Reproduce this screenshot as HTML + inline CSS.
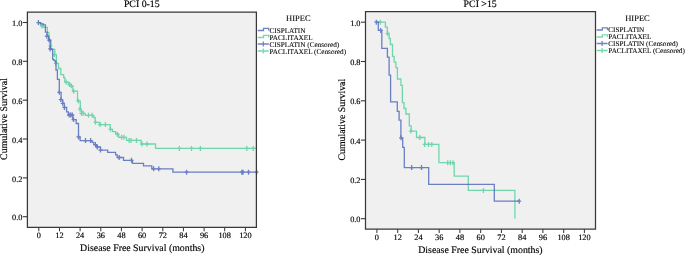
<!DOCTYPE html>
<html><head><meta charset="utf-8"><style>
html,body{margin:0;padding:0;background:#fff;}
svg{display:block;text-rendering:geometricPrecision;}
text{stroke:#000;stroke-width:0.16px;}
.lg{stroke-width:0.08px;}
</style></head><body>
<svg width="685" height="255" viewBox="0 0 685 255" font-family="'Liberation Serif', 'Times New Roman', serif" fill="#000">
<rect width="685" height="255" fill="#fff"/>
<rect x="27.4" y="12.0" width="228.99999999999997" height="215.3" fill="#f0f0f0"/>
<line x1="22.799999999999997" y1="216.7" x2="27.4" y2="216.7" stroke="#383838" stroke-width="1.1"/>
<text x="22.4" y="220.3" text-anchor="end" font-size="8.3">0.0</text>
<line x1="22.799999999999997" y1="177.9" x2="27.4" y2="177.9" stroke="#383838" stroke-width="1.1"/>
<text x="22.4" y="181.5" text-anchor="end" font-size="8.3">0.2</text>
<line x1="22.799999999999997" y1="139.0" x2="27.4" y2="139.0" stroke="#383838" stroke-width="1.1"/>
<text x="22.4" y="142.6" text-anchor="end" font-size="8.3">0.4</text>
<line x1="22.799999999999997" y1="100.2" x2="27.4" y2="100.2" stroke="#383838" stroke-width="1.1"/>
<text x="22.4" y="103.8" text-anchor="end" font-size="8.3">0.6</text>
<line x1="22.799999999999997" y1="61.3" x2="27.4" y2="61.3" stroke="#383838" stroke-width="1.1"/>
<text x="22.4" y="64.9" text-anchor="end" font-size="8.3">0.8</text>
<line x1="22.799999999999997" y1="22.5" x2="27.4" y2="22.5" stroke="#383838" stroke-width="1.1"/>
<text x="22.4" y="26.1" text-anchor="end" font-size="8.3">1.0</text>
<line x1="38.8" y1="227.3" x2="38.8" y2="231.3" stroke="#333" stroke-width="1"/>
<text x="38.8" y="238.2" text-anchor="middle" font-size="8.3">0</text>
<line x1="59.5" y1="227.3" x2="59.5" y2="231.3" stroke="#333" stroke-width="1"/>
<text x="59.5" y="238.2" text-anchor="middle" font-size="8.3">12</text>
<line x1="80.1" y1="227.3" x2="80.1" y2="231.3" stroke="#333" stroke-width="1"/>
<text x="80.1" y="238.2" text-anchor="middle" font-size="8.3">24</text>
<line x1="100.8" y1="227.3" x2="100.8" y2="231.3" stroke="#333" stroke-width="1"/>
<text x="100.8" y="238.2" text-anchor="middle" font-size="8.3">36</text>
<line x1="121.4" y1="227.3" x2="121.4" y2="231.3" stroke="#333" stroke-width="1"/>
<text x="121.4" y="238.2" text-anchor="middle" font-size="8.3">48</text>
<line x1="142.1" y1="227.3" x2="142.1" y2="231.3" stroke="#333" stroke-width="1"/>
<text x="142.1" y="238.2" text-anchor="middle" font-size="8.3">60</text>
<line x1="162.8" y1="227.3" x2="162.8" y2="231.3" stroke="#333" stroke-width="1"/>
<text x="162.8" y="238.2" text-anchor="middle" font-size="8.3">72</text>
<line x1="183.4" y1="227.3" x2="183.4" y2="231.3" stroke="#333" stroke-width="1"/>
<text x="183.4" y="238.2" text-anchor="middle" font-size="8.3">84</text>
<line x1="204.1" y1="227.3" x2="204.1" y2="231.3" stroke="#333" stroke-width="1"/>
<text x="204.1" y="238.2" text-anchor="middle" font-size="8.3">96</text>
<line x1="224.7" y1="227.3" x2="224.7" y2="231.3" stroke="#333" stroke-width="1"/>
<text x="224.7" y="238.2" text-anchor="middle" font-size="8.3">108</text>
<line x1="245.4" y1="227.3" x2="245.4" y2="231.3" stroke="#333" stroke-width="1"/>
<text x="245.4" y="238.2" text-anchor="middle" font-size="8.3">120</text>
<text x="141.8" y="6.9" text-anchor="middle" font-size="9.85">PCI 0-15</text>
<text x="142.3" y="251.3" text-anchor="middle" font-size="9.85">Disease Free Survival (months)</text>
<text transform="translate(6.9 119.0) rotate(-90)" text-anchor="middle" font-size="9.85">Cumulative Survival</text>
<g opacity="0.8" stroke-width="1.3">
<path d="M38.8 22.6 H40.4 V25.5 H43 V27.3 H47.3 V32.4 H48.9 V40.1 H51.1 V49.3 H54.8 V54.6 H56.4 V63.3 H58.5 V68.5 H60.8 V74.7 H63.6 V77.5 H64.8 V82.1 H68.5 V84.6 H70.3 V85.8 H72.9 V91.2 H77.5 V101.1 H80.3 V109.1 H81.2 V111.3 H82.5 V113.3 H85.2 V115.3 H93.6 V117.5 H95.2 V122.3 H99.9 V124.6 H110.1 V129.3 H112.5 V131.7 H115.6 V134.2 H118.7 V137.3 H126.5 V140.4 H141.2 V144 H155.5 V148.4 H256.5" stroke="#52cf9c" fill="none"/>
<path d="M40.0 26.1h4M42.0 23.6v5M48.4 45.8h4M50.4 43.3v5M52.5 54.6h4M54.5 52.1v5M53.8 63.3h4M55.8 60.8v5M64.2 82.1h4M66.2 79.6v5M67.5 84.6h4M69.5 82.1v5M69.3 85.8h4M71.3 83.3v5M71.6 91.2h4M73.6 88.7v5M76.4 101.1h4M78.4 98.6v5M78.0 109.1h4M80.0 106.6v5M79.4 113.3h4M81.4 110.8v5M81.1 113.3h4M83.1 110.8v5M86.5 115.3h4M88.5 112.8v5M90.1 115.3h4M92.1 112.8v5M93.5 122.3h4M95.5 119.8v5M98.0 124.6h4M100.0 122.1v5M103.4 124.6h4M105.4 122.1v5M108.5 129.3h4M110.5 126.8v5M115.3 134.2h4M117.3 131.7v5M119.6 137.3h4M121.6 134.8v5M121.9 137.3h4M123.9 134.8v5M127.1 140.4h4M129.1 137.9v5M129.0 140.4h4M131.0 137.9v5M134.5 140.4h4M136.5 137.9v5M140.0 144.0h4M142.0 141.5v5M145.0 144.0h4M147.0 141.5v5M177.4 148.4h4M179.4 145.9v5M189.5 148.4h4M191.5 145.9v5M198.4 148.4h4M200.4 145.9v5M244.8 148.4h4M246.8 145.9v5M251.3 148.4h4M253.3 145.9v5" stroke="#52cf9c" fill="none"/>
</g>
<g opacity="0.8" stroke-width="1.3">
<path d="M38.8 22.6 H40.8 V23.9 H43.4 V24.9 H45.4 V32.2 H47.2 V36.2 H48.8 V40.1 H50.2 V49.2 H52.7 V59.4 H53.8 V60.3 H55 V61.5 H56 V70 H57.4 V79.3 H59.3 V92.5 H61.1 V99.6 H62.7 V103.3 H64.4 V107.5 H66.6 V111.8 H68.3 V115 H72.8 V119.6 H76.2 V123.5 H78.5 V137 H80.1 V140.6 H92.1 V142.3 H93.8 V144.6 H96.5 V147 H100.5 V150.1 H107.7 V152.3 H115.6 V154.8 H117.2 V157.5 H123.5 V160.3 H132.5 V163.3 H143.5 V165.9 H151.8 V168.8 H172.9 V172.2 H256.5" stroke="#4a63b8" fill="none"/>
<path d="M36.4 22.6h4M38.4 20.1v5M44.8 36.2h4M46.8 33.7v5M47.1 40.1h4M49.1 37.6v5M48.2 48.9h4M50.2 46.4v5M57.3 92.3h4M59.3 89.8v5M58.8 99.6h4M60.8 97.1v5M60.7 103.3h4M62.7 100.8v5M62.4 107.4h4M64.4 104.9v5M67.1 115.0h4M69.1 112.5v5M68.7 115.0h4M70.7 112.5v5M70.3 115.0h4M72.3 112.5v5M71.5 119.6h4M73.5 117.1v5M76.5 136.9h4M78.5 134.4v5M83.5 140.6h4M85.5 138.1v5M88.6 140.6h4M90.6 138.1v5M93.4 144.6h4M95.4 142.1v5M95.3 147.0h4M97.3 144.5v5M98.5 150.1h4M100.5 147.6v5M117.2 157.5h4M119.2 155.0v5M129.5 160.3h4M131.5 157.8v5M151.6 168.8h4M153.6 166.3v5M156.8 168.8h4M158.8 166.3v5M184.6 172.2h4M186.6 169.7v5M239.8 172.2h4M241.8 169.7v5M241.0 172.2h4M243.0 169.7v5M246.5 172.2h4M248.5 169.7v5M254.6 172.2h4M256.6 169.7v5" stroke="#4a63b8" fill="none"/>
</g>
<path d="M27.4 11.4V227.9M256.4 11.4V227.9M26.799999999999997 12.0H257.0M26.799999999999997 227.3H257.0" stroke="#383838" stroke-width="1.25" fill="none"/>
<text class="lg" x="298.4" y="21.2" text-anchor="middle" font-size="8.5">HIPEC</text>
<path d="M257.8 30.50 H263.50 V28.30 H268.70 V30.50" stroke="#4a63b8" stroke-width="1.3" opacity="0.8" fill="none"/>
<text class="lg" x="269.50" y="32.50" font-size="7.2">CISPLATIN</text>
<path d="M257.8 37.50 H263.50 V35.30 H268.70 V37.50" stroke="#52cf9c" stroke-width="1.3" opacity="0.8" fill="none"/>
<text class="lg" x="269.50" y="39.50" font-size="7.2">PACLITAXEL</text>
<path d="M257.8 44.00 H268.80 M263.30 41.50 v5" stroke="#4a63b8" stroke-width="1.3" opacity="0.8" fill="none"/>
<text class="lg" x="269.50" y="46.50" font-size="7.2">CISPLATIN (Censored)</text>
<path d="M257.8 51.00 H268.80 M263.30 48.50 v5" stroke="#52cf9c" stroke-width="1.3" opacity="0.8" fill="none"/>
<text class="lg" x="269.50" y="53.50" font-size="7.2">PACLITAXEL (Censored)</text>
<rect x="365.5" y="11.5" width="230.0" height="217.5" fill="#f0f0f0"/>
<line x1="360.9" y1="218.7" x2="365.5" y2="218.7" stroke="#383838" stroke-width="1.1"/>
<text x="360.5" y="222.3" text-anchor="end" font-size="8.3">0.0</text>
<line x1="360.9" y1="179.4" x2="365.5" y2="179.4" stroke="#383838" stroke-width="1.1"/>
<text x="360.5" y="183.0" text-anchor="end" font-size="8.3">0.2</text>
<line x1="360.9" y1="140.1" x2="365.5" y2="140.1" stroke="#383838" stroke-width="1.1"/>
<text x="360.5" y="143.7" text-anchor="end" font-size="8.3">0.4</text>
<line x1="360.9" y1="100.8" x2="365.5" y2="100.8" stroke="#383838" stroke-width="1.1"/>
<text x="360.5" y="104.4" text-anchor="end" font-size="8.3">0.6</text>
<line x1="360.9" y1="61.5" x2="365.5" y2="61.5" stroke="#383838" stroke-width="1.1"/>
<text x="360.5" y="65.1" text-anchor="end" font-size="8.3">0.8</text>
<line x1="360.9" y1="22.2" x2="365.5" y2="22.2" stroke="#383838" stroke-width="1.1"/>
<text x="360.5" y="25.8" text-anchor="end" font-size="8.3">1.0</text>
<line x1="376.9" y1="229.0" x2="376.9" y2="233.0" stroke="#333" stroke-width="1"/>
<text x="376.9" y="240.3" text-anchor="middle" font-size="8.3">0</text>
<line x1="397.7" y1="229.0" x2="397.7" y2="233.0" stroke="#333" stroke-width="1"/>
<text x="397.7" y="240.3" text-anchor="middle" font-size="8.3">12</text>
<line x1="418.4" y1="229.0" x2="418.4" y2="233.0" stroke="#333" stroke-width="1"/>
<text x="418.4" y="240.3" text-anchor="middle" font-size="8.3">24</text>
<line x1="439.2" y1="229.0" x2="439.2" y2="233.0" stroke="#333" stroke-width="1"/>
<text x="439.2" y="240.3" text-anchor="middle" font-size="8.3">36</text>
<line x1="459.9" y1="229.0" x2="459.9" y2="233.0" stroke="#333" stroke-width="1"/>
<text x="459.9" y="240.3" text-anchor="middle" font-size="8.3">48</text>
<line x1="480.7" y1="229.0" x2="480.7" y2="233.0" stroke="#333" stroke-width="1"/>
<text x="480.7" y="240.3" text-anchor="middle" font-size="8.3">60</text>
<line x1="501.4" y1="229.0" x2="501.4" y2="233.0" stroke="#333" stroke-width="1"/>
<text x="501.4" y="240.3" text-anchor="middle" font-size="8.3">72</text>
<line x1="522.2" y1="229.0" x2="522.2" y2="233.0" stroke="#333" stroke-width="1"/>
<text x="522.2" y="240.3" text-anchor="middle" font-size="8.3">84</text>
<line x1="542.9" y1="229.0" x2="542.9" y2="233.0" stroke="#333" stroke-width="1"/>
<text x="542.9" y="240.3" text-anchor="middle" font-size="8.3">96</text>
<line x1="563.7" y1="229.0" x2="563.7" y2="233.0" stroke="#333" stroke-width="1"/>
<text x="563.7" y="240.3" text-anchor="middle" font-size="8.3">108</text>
<line x1="584.4" y1="229.0" x2="584.4" y2="233.0" stroke="#333" stroke-width="1"/>
<text x="584.4" y="240.3" text-anchor="middle" font-size="8.3">120</text>
<text x="480.2" y="6.9" text-anchor="middle" font-size="9.85">PCI >15</text>
<text x="480.4" y="252.5" text-anchor="middle" font-size="9.85">Disease Free Survival (months)</text>
<text transform="translate(345.3 119.7) rotate(-90)" text-anchor="middle" font-size="9.85">Cumulative Survival</text>
<g opacity="0.8" stroke-width="1.3">
<path d="M376.9 22.2 H385.4 V27.2 H387.3 V33.5 H389.1 V38.5 H390.4 V44.5 H392.5 V56.3 H394.1 V62.2 H395.9 V67.6 H397.4 V79 H400.9 V85.3 H402.4 V102.6 H404 V108.5 H405.9 V114 H409.3 V125.8 H411.2 V131.1 H416.5 V137.5 H424.9 V144.4 H438.9 V162.7 H454.2 V176.1 H468.3 V190.4 H514.9 V218.7" stroke="#52cf9c" fill="none"/>
<path d="M378.2 22.2h4M380.2 19.7v5M385.6 33.5h4M387.6 31.0v5M408.8 131.1h4M410.8 128.6v5M417.8 137.5h4M419.8 135.0v5M422.6 144.4h4M424.6 141.9v5M426.6 144.4h4M428.6 141.9v5M429.8 144.4h4M431.8 141.9v5M445.7 162.7h4M447.7 160.2v5M448.3 162.7h4M450.3 160.2v5M451.0 162.7h4M453.0 160.2v5M481.4 190.4h4M483.4 187.9v5" stroke="#52cf9c" fill="none"/>
</g>
<g opacity="0.8" stroke-width="1.3">
<path d="M376.9 22.2 H378.3 V30.4 H381.8 V48.3 H387.4 V57.1 H389.1 V75.1 H390.6 V101.9 H397.3 V111.4 H399.1 V120.1 H400.9 V137.8 H402.7 V147.3 H404.3 V167.6 H428.7 V184.4 H494.3 V201.2 H519.5" stroke="#4a63b8" fill="none"/>
<path d="M374.3 22.2h4M376.3 19.7v5M378.7 30.4h4M380.7 27.9v5M399.1 137.8h4M401.1 135.3v5M409.7 167.6h4M411.7 165.1v5M419.5 167.6h4M421.5 165.1v5M517.2 201.2h4M519.2 198.7v5" stroke="#4a63b8" fill="none"/>
</g>
<path d="M365.5 10.9V229.6M595.5 10.9V229.6M364.9 11.5H596.1M364.9 229.0H596.1" stroke="#383838" stroke-width="1.25" fill="none"/>
<text class="lg" x="637.5" y="20.6" text-anchor="middle" font-size="8.5">HIPEC</text>
<path d="M596.6 30.00 H602.30 V27.80 H607.50 V30.00" stroke="#4a63b8" stroke-width="1.3" opacity="0.8" fill="none"/>
<text class="lg" x="608.30" y="32.00" font-size="7.2">CISPLATIN</text>
<path d="M596.6 37.00 H602.30 V34.80 H607.50 V37.00" stroke="#52cf9c" stroke-width="1.3" opacity="0.8" fill="none"/>
<text class="lg" x="608.30" y="39.00" font-size="7.2">PACLITAXEL</text>
<path d="M596.6 43.50 H607.60 M602.10 41.00 v5" stroke="#4a63b8" stroke-width="1.3" opacity="0.8" fill="none"/>
<text class="lg" x="608.30" y="46.00" font-size="7.2">CISPLATIN (Censored)</text>
<path d="M596.6 50.50 H607.60 M602.10 48.00 v5" stroke="#52cf9c" stroke-width="1.3" opacity="0.8" fill="none"/>
<text class="lg" x="608.30" y="53.00" font-size="7.2">PACLITAXEL (Censored)</text>
</svg>
</body></html>
